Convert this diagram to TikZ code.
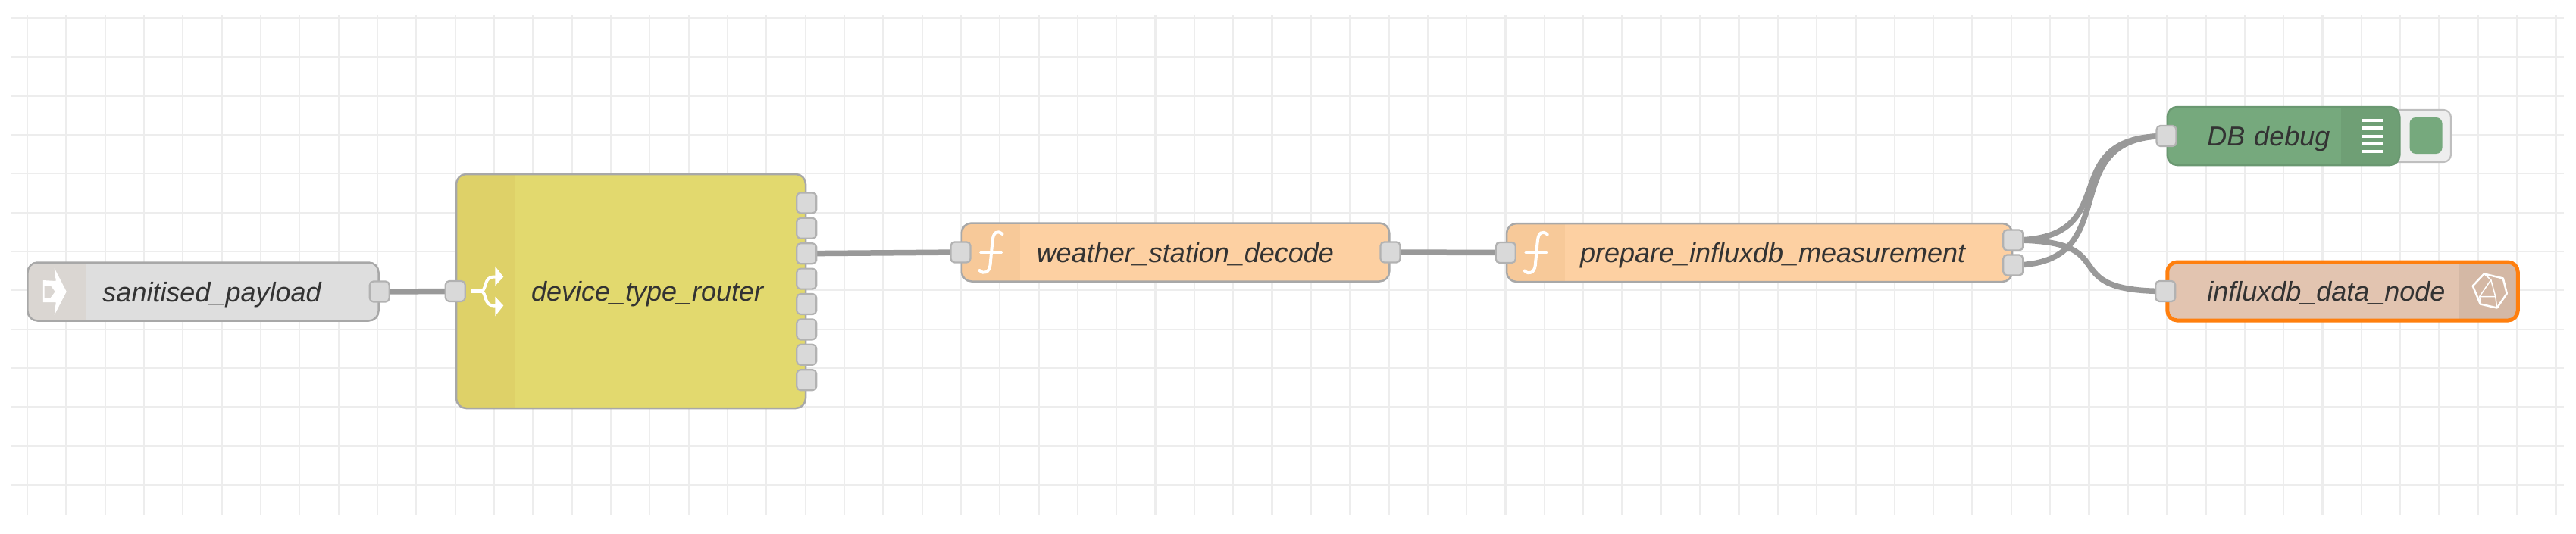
\documentclass[tikz,border=0pt]{standalone}
\usepackage{fontspec}
\setmainfont{Liberation Sans}
\usetikzlibrary{calc}
\definecolor{gridline}{HTML}{EDEDED}
\definecolor{wirecol}{HTML}{999999}
\definecolor{linkcol}{HTML}{DEDEDE}
\definecolor{switchcol}{HTML}{E2D96E}
\definecolor{funccol}{HTML}{FDD0A2}
\definecolor{debugcol}{HTML}{76A97D}
\definecolor{influxcol}{HTML}{E2C4B0}
\definecolor{portcol}{HTML}{D9D9D9}
\definecolor{selcol}{HTML}{FF7F0E}
\definecolor{btncol}{HTML}{EEEEEE}
\definecolor{labelcol}{HTML}{333333}
\pgfdeclarelayer{back}
\pgfsetlayers{back,main}
\newcommand{\flowfont}{\fontsize{10.24pt}{12pt}\selectfont\itshape}

\begin{document}
\begin{tikzpicture}[
    x=1cm, y=-1cm,
    flownode/.style={rectangle, draw=wirecol!85, line width=.025cm, rounded corners=.13cm, minimum height=.77cm, inner xsep=0pt, inner ysep=0pt, align=left, text=labelcol, font=\flowfont, text height=.32cm, text depth=.06cm},
    tabL/.style={execute at begin node={\hspace*{#1cm}}, path picture={\fill[orange!60!black, fill opacity=.05, sharp corners] (path picture bounding box.north west) rectangle ([xshift=.77cm]path picture bounding box.south west);}},
    tabR/.style={execute at begin node={\hspace*{#1cm}}, path picture={\fill[black, fill opacity=.06, sharp corners] (path picture bounding box.north east) rectangle ([xshift=-.77cm]path picture bounding box.south east);}},
    port/.style={rectangle, draw=wirecol!75, line width=.022cm, fill=portcol, rounded corners=.05cm, minimum width=.26cm, minimum height=.27cm, inner sep=0pt},
    wire/.style={draw=wirecol, line width=.075cm},
    icon/.style={draw=white, line width=.04cm, line cap=round},
    fnicon/.pic={
        \draw[icon] (.15,-.24) .. controls (.08,-.30) and (.03,-.26) .. (.02,-.15) -- (-.01,.17) .. controls (-.02,.26) and (-.09,.30) .. (-.15,.24);
        \draw[icon, line width=.03cm] (-.14,0) -- (.14,0);
    },
    linkicon/.pic={
        \fill[white, even odd rule] (0,-.31) -- (.16,0) -- (0,.31) -- (.02,.14) -- (-.15,.14) -- (-.15,-.15) -- (.02,-.14) -- cycle
            (-.13,-.08) -- (-.05,-.08) -- (.01,0) -- (-.05,.08) -- (-.13,.08) -- cycle;
    },
    switchicon/.pic={
        \draw[icon, line width=.05cm, line cap=butt] (-.18,0) -- (-.04,0);
        \draw[icon, line width=.04cm, line cap=butt] (-.04,0) .. controls (.03,-.02) and (-.01,-.19) .. (.12,-.19) -- (.2,-.19);
        \draw[icon, line width=.04cm, line cap=butt] (-.04,0) .. controls (.03,.02) and (-.01,.19) .. (.12,.19) -- (.2,.19);
        \fill[white] (.14,-.33) -- (.25,-.19) -- (.14,-.07) -- cycle;
        \fill[white] (.14,.07) -- (.25,.19) -- (.14,.33) -- cycle;
    },
    dbicon/.pic={
        \draw[icon, line width=.025cm, line join=round] (-.07,-.23) -- (.18,-.17) -- (.23,.03) -- (.1,.22) -- (-.12,.17) -- (-.22,-.07) -- cycle;
        \draw[icon, line width=.015cm] (.02,-.15) -- (-.13,.07) -- (.08,.07) -- cycle;
        \draw[icon, line width=.015cm] (.02,-.15) -- (-.07,-.23) (.08,.07) -- (.1,.22) (-.13,.07) -- (-.12,.17);
    }
]
    % grid
    \begin{pgfonlayer}{back}
    \foreach \i in {0,...,65}
        \draw[gridline, line width=.022cm] ({.36+.5133*\i},.20) -- ({.36+.5133*\i},6.80);
    \foreach \i in {0,...,12}
        \draw[gridline, line width=.022cm] (.14,{.24+.5133*\i}) -- (33.83,{.24+.5133*\i});
    \end{pgfonlayer}
    \useasboundingbox (0,0) rectangle (33.99,7.04);

    % flow nodes
    \node[flownode, fill=linkcol, tabL=.99, text width=4.63cm] (sanitised) at (2.68,3.85) {sanitised\_payload};
    \node[flownode, fill=switchcol, tabL=.99, text width=4.61cm, minimum height=3.09cm] (router) at (8.325,3.845) {device\_type\_router};
    \node[flownode, fill=funccol, tabL=.99, text width=5.645cm] (weather) at (15.51,3.33) {weather\_station\_decode};
    \node[flownode, fill=funccol, tabL=.97, text width=6.67cm] (prepare) at (23.215,3.335) {prepare\_influxdb\_measurement};

    \node[rectangle, draw=black!25, line width=.022cm, fill=btncol, rounded corners=.1cm, minimum width=.84cm, minimum height=.69cm, inner sep=0pt] (debugbtn) at (31.92,1.795) {};
    \node[flownode, draw=debugcol!90!black, fill=debugcol, tabR=.525, text width=3.065cm] (debug) at (30.13,1.795) {DB debug};
    \node[rectangle, fill=debugcol, rounded corners=.08cm, minimum width=.43cm, minimum height=.48cm, inner sep=0pt] (debugled) at (32.01,1.79) {};
    \node[flownode, draw=selcol, line width=.05cm, fill=influxcol, tabR=.525, text width=4.625cm] (influx) at (30.91,3.845) {influxdb\_data\_node};

    % icons
    \pic at ([xshift=.365cm]sanitised.west) {linkicon};
    \pic at ([xshift=.385cm]router.west) {switchicon};
    \pic at ([xshift=.40cm]weather.west) {fnicon};
    \pic at ([xshift=.40cm]prepare.west) {fnicon};
    \pic at ([xshift=-.40cm]influx.east) {dbicon};
    \foreach \k in {-2,...,2}
        \draw[white, line width=.04cm] ($(debug.east)+(-.24,{.104*\k})$) -- ++(-.27,0);

    % ports
    \node[port] (sanitisedout) at (sanitised.east) {};
    \node[port] (routerin) at (router.west) {};
    \foreach \i in {1,...,8}
        \node[port] (routerout\i) at ($(router.east)+(0,{-1.5+.334*\i})$) {};
    \node[port] (weatherin) at (weather.west) {};
    \node[port] (weatherout) at (weather.east) {};
    \node[port] (preparein) at (prepare.west) {};
    \node[port] (prepareout1) at ($(prepare.east)+(0,-.165)$) {};
    \node[port] (prepareout2) at ($(prepare.east)+(0,.165)$) {};
    \node[port] (debugin) at (debug.west) {};
    \node[port] (influxin) at (influx.west) {};

    % wires
    \begin{pgfonlayer}{back}
    \draw[wire] (sanitisedout.center) -- (routerin.center);
    \draw[wire] (routerout3.center) -- (weatherin.center);
    \draw[wire] (weatherout.center) -- (preparein.center);
    \draw[wire] (prepareout1.center) .. controls +(1.53,0) and +(-1.53,0) .. (debugin.center);
    \draw[wire] (prepareout2.center) .. controls +(1.53,0) and +(-1.53,0) .. (debugin.center);
    \draw[wire] (prepareout1.center) .. controls +(1.53,0) and +(-1.53,0) .. (influxin.center);
    \end{pgfonlayer}
\end{tikzpicture}
\end{document}
